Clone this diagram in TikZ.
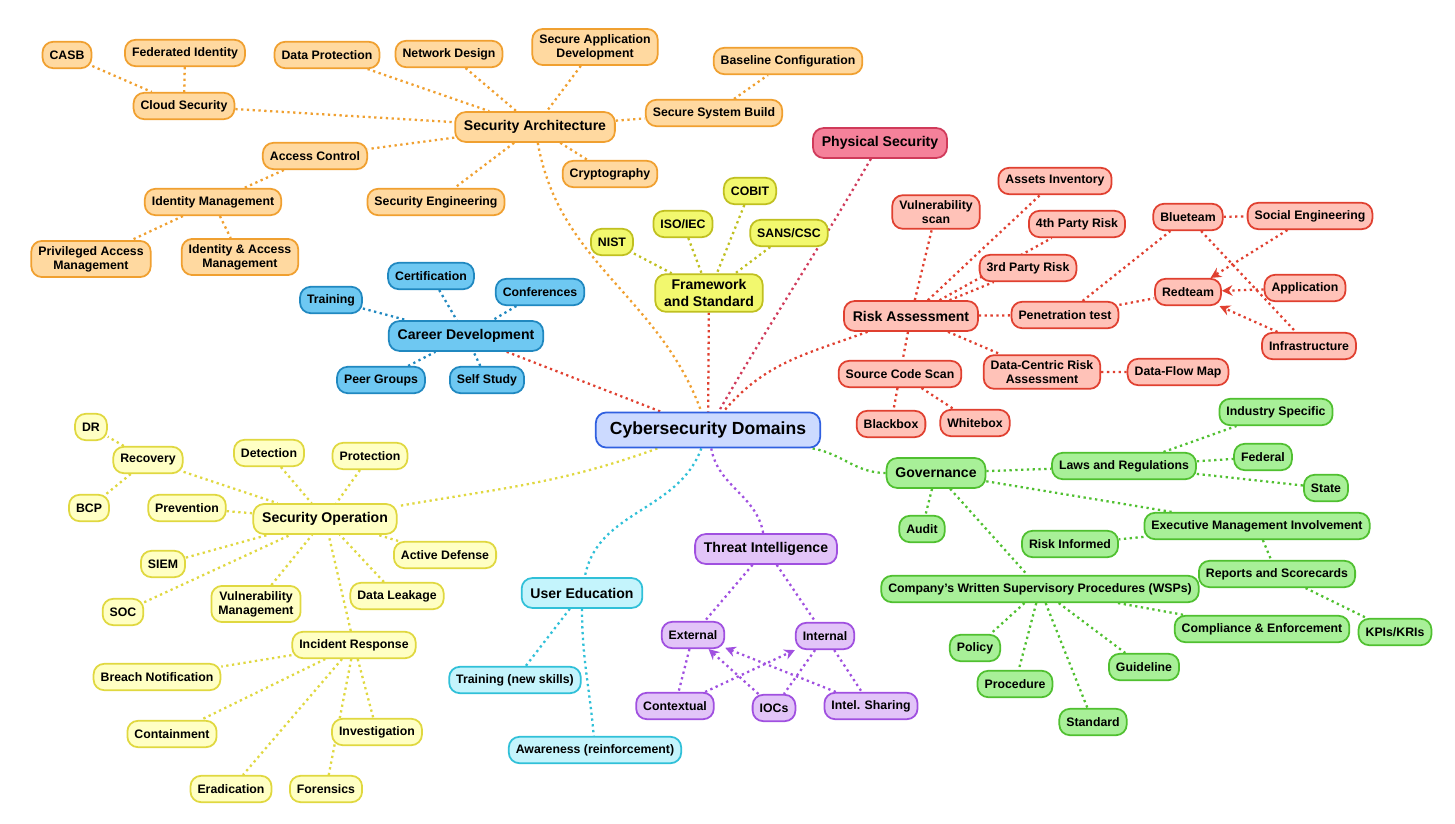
\documentclass[tikz,border=0pt]{standalone}
\usepackage{fontspec}
\setmainfont{Liberation Sans}
\usetikzlibrary{backgrounds,arrows.meta}
\definecolor{oF}{HTML}{FFD9A0}\definecolor{oD}{HTML}{F0A030}
\definecolor{pF}{HTML}{F5819A}\definecolor{pD}{HTML}{D03A5A}
\definecolor{yF}{HTML}{F2F86E}\definecolor{yD}{HTML}{C0C020}
\definecolor{bF}{HTML}{6EC8F2}\definecolor{bD}{HTML}{2088C0}
\definecolor{rF}{HTML}{FFC2B8}\definecolor{rD}{HTML}{E04030}
\definecolor{gF}{HTML}{A8F098}\definecolor{gD}{HTML}{50C030}
\definecolor{lF}{HTML}{FFFFC4}\definecolor{lD}{HTML}{E0D840}
\definecolor{cF}{HTML}{C4F4FC}\definecolor{cD}{HTML}{30C0D8}
\definecolor{vF}{HTML}{E2C4F8}\definecolor{vD}{HTML}{A050E0}
\definecolor{kF}{HTML}{CCDAFF}\definecolor{kD}{HTML}{3060E0}
\tikzset{
 base/.style={rounded corners=6pt, line width=1pt, font=\bfseries\fontsize{7}{8}\selectfont, inner xsep=4pt, inner ysep=3pt, minimum height=15pt, align=center},
 big/.style={font=\bfseries\fontsize{8}{9.5}\selectfont, minimum height=17pt, inner xsep=5pt},
 on/.style={base, fill=oF, draw=oD}, pn/.style={base, fill=pF, draw=pD},
 yn/.style={base, fill=yF, draw=yD}, bn/.style={base, fill=bF, draw=bD},
 rn/.style={base, fill=rF, draw=rD}, gn/.style={base, fill=gF, draw=gD},
 ln/.style={base, fill=lF, draw=lD}, cn/.style={base, fill=cF, draw=cD},
 vn/.style={base, fill=vF, draw=vD},
 lk/.style={dotted, line width=1.3pt},
 ar/.style={lk, -{Stealth[length=6pt,width=6pt]}},
}
\begin{document}
\begin{tikzpicture}[x=0.02cm,y=-0.02cm]
\useasboundingbox (0,0) rectangle (1455,824);
\node[base,big,fill=kF,draw=kD,font=\bfseries\fontsize{10}{12}\selectfont,minimum height=20pt,inner xsep=8pt] (C) at (708,430) {Cybersecurity Domains};
% orange
\node[on] (casb) at (67,55) {CASB};
\node[on] (fed) at (185,53) {Federated Identity};
\node[on] (dp) at (327,55) {Data Protection};
\node[on] (nd) at (449,54) {Network Design};
\node[on] (sad) at (595,47) {Secure Application\\Development};
\node[on] (bc) at (788,61) {Baseline Configuration};
\node[on] (cs) at (184,106) {Cloud Security};
\node[on] (ssb) at (714,113) {Secure System Build};
\node[on,big] (sa) at (535,127) {Security Architecture};
\node[on] (ac) at (315,156) {Access Control};
\node[on] (cr) at (610,174) {Cryptography};
\node[on] (im) at (213,202) {Identity Management};
\node[on] (se) at (436,202) {Security Engineering};
\node[on] (pam) at (91,259) {Privileged Access\\Management};
\node[on] (iam) at (240,257) {Identity \& Access\\Management};
\node[pn,big] (ps) at (880,143) {Physical Security};
% framework
\node[yn] (nist) at (612,242) {NIST};
\node[yn] (iso) at (683,224) {ISO/IEC};
\node[yn] (cobit) at (750,191) {COBIT};
\node[yn] (sans) at (789,233) {SANS/CSC};
\node[yn,big] (fw) at (709,293) {Framework\\and Standard};
% career
\node[bn] (cert) at (431,276) {Certification};
\node[bn] (tr) at (331,300) {Training};
\node[bn] (conf) at (540,292) {Conferences};
\node[bn,big] (cd) at (466,336) {Career Development};
\node[bn] (pg) at (381,380) {Peer Groups};
\node[bn] (ss) at (487,380) {Self Study};
% risk
\node[rn] (vs) at (936,212) {Vulnerability\\scan};
\node[rn] (ai) at (1055,181) {Assets Inventory};
\node[rn] (p4) at (1077,224) {4th Party Risk};
\node[rn] (p3) at (1028,268) {3rd Party Risk};
\node[rn] (blue) at (1188,217) {Blueteam};
\node[rn] (soc1) at (1310,216) {Social Engineering};
\node[rn] (red) at (1188,292) {Redteam};
\node[rn] (app) at (1305,288) {Application};
\node[rn] (pt) at (1065,315) {Penetration test};
\node[rn,big] (ra) at (911,316) {Risk Assessment};
\node[rn] (inf) at (1309,346) {Infrastructure};
\node[rn] (scs) at (900,374) {Source Code Scan};
\node[rn] (dc) at (1042,372) {Data-Centric Risk\\Assessment};
\node[rn] (dfm) at (1178,372) {Data-Flow Map};
\node[rn] (bb) at (891,424) {Blackbox};
\node[rn] (wb) at (975,423) {Whitebox};
% governance
\node[gn] (ind) at (1276,412) {Industry Specific};
\node[gn] (fedl) at (1263,457) {Federal};
\node[gn] (law) at (1124,466) {Laws and Regulations};
\node[gn] (st) at (1326,488) {State};
\node[gn,big] (gov) at (936,473) {Governance};
\node[gn] (aud) at (922,529) {Audit};
\node[gn] (ex) at (1257,526) {Executive Management Involvement};
\node[gn] (ri) at (1070,544) {Risk Informed};
\node[gn] (rs) at (1277,574) {Reports and Scorecards};
\node[gn] (wsp) at (1040,589) {Company's Written Supervisory Procedures (WSPs)};
\node[gn] (kpi) at (1395,632) {KPIs/KRIs};
\node[gn] (ce) at (1262,629) {Compliance \& Enforcement};
\node[gn] (pol) at (975,648) {Policy};
\node[gn] (proc) at (1015,684) {Procedure};
\node[gn] (gl) at (1144,667) {Guideline};
\node[gn] (std) at (1093,722) {Standard};
% security operation
\node[ln] (dr) at (91,427) {DR};
\node[ln] (rec) at (148,460) {Recovery};
\node[ln] (bcp) at (89,508) {BCP};
\node[ln] (det) at (269,453) {Detection};
\node[ln] (prot) at (370,456) {Protection};
\node[ln] (prev) at (187,508) {Prevention};
\node[ln,big] (so) at (325,519) {Security Operation};
\node[ln] (ad) at (445,555) {Active Defense};
\node[ln] (siem) at (163,564) {SIEM};
\node[ln] (soc) at (123,612) {SOC};
\node[ln] (vm) at (256,604) {Vulnerability\\Management};
\node[ln] (dl) at (397,596) {Data Leakage};
\node[ln] (ir) at (354,645) {Incident Response};
\node[ln] (bn1) at (157,677) {Breach Notification};
\node[ln] (cont) at (172,734) {Containment};
\node[ln] (inv) at (377,732) {Investigation};
\node[ln] (era) at (231,789) {Eradication};
\node[ln] (for) at (326,789) {Forensics};
% user education
\node[cn,big] (ue) at (582,593) {User Education};
\node[cn] (tns) at (515,680) {Training (new skills)};
\node[cn] (aw) at (595,750) {Awareness (reinforcement)};
% threat intel
\node[vn,big] (ti) at (766,549) {Threat Intelligence};
\node[vn] (ext) at (693,635) {External};
\node[vn] (int) at (825,636) {Internal};
\node[vn] (ctx) at (675,706) {Contextual};
\node[vn] (ioc) at (774,708) {IOCs};
\node[vn] (is) at (871,706) {Intel. Sharing};
\begin{scope}[on background layer]
\fill[white] (0,0) rectangle (1455,824);
\draw[lk,oD] (casb)--(cs) (fed)--(cs) (cs)--(sa) (dp)--(sa) (nd)--(sa) (sad)--(sa) (sa)--(ssb) (ssb)--(bc)
 (sa)--(ac) (ac)--(im) (im)--(pam) (im)--(iam) (sa)--(cr) (sa)--(se);
\draw[lk,oD] (sa) to[out=-80,in=110] (C);
\draw[lk,pD] (ps) to[out=-120,in=60] (C);
\draw[lk,yD] (nist)--(fw) (iso)--(fw) (cobit)--(fw) (sans)--(fw);
\draw[lk,rD] (fw)--(C);
\draw[lk,bD] (cert)--(cd) (tr)--(cd) (conf)--(cd) (pg)--(cd) (ss)--(cd);
\draw[lk,rD] (cd)--(C);
\draw[lk,rD] (ra) to[out=200,in=50] (C);
\draw[lk,rD] (ra)--(vs) (ra)--(ai) (ra)--(p3) (ra)--(p4) (ra)--(pt) (pt)--(blue) (pt)--(red)
 (blue)--(soc1) (blue)--(inf) (ra)--(scs) (scs)--(bb) (scs)--(wb) (ra)--(dc) (dc)--(dfm);
\draw[ar,rD] (soc1)--(red); \draw[ar,rD] (app)--(red); \draw[ar,rD] (inf)--(red);
\draw[lk,gD] (C) to[out=-10,in=180] (gov);
\draw[lk,gD] (gov)--(law) (law)--(ind) (law)--(fedl) (law)--(st) (gov)--(aud) (gov)--(ex) (ex)--(ri) (ex)--(rs) (rs)--(kpi)
 (gov)--(wsp) (wsp)--(pol) (wsp)--(proc) (wsp)--(std) (wsp)--(gl) (wsp)--(ce);
\draw[lk,lD] (C) to[out=200,in=10] (so);
\draw[lk,lD] (rec)--(dr) (rec)--(bcp) (rec)--(so) (det)--(so) (prot)--(so) (prev)--(so) (ad)--(so) (siem)--(so) (soc)--(so) (vm)--(so) (dl)--(so) (ir)--(so)
 (ir)--(bn1) (ir)--(cont) (ir)--(inv) (ir)--(era) (ir)--(for);
\draw[lk,cD] (C) to[out=-110,in=80] (ue);
\draw[lk,cD] (ue)--(tns) (ue) to[out=-90,in=95] (aw);
\draw[lk,vD] (C) to[out=-80,in=100] (ti);
\draw[lk,vD] (ti)--(ext) (ti)--(int) (ext)--(ctx) (int)--(ioc) (int)--(is);
\draw[ar,vD] (ctx)--(int); \draw[ar,vD] (ioc)--(ext); \draw[ar,vD] (is)--(ext);
\end{scope}
\end{tikzpicture}
\end{document}
